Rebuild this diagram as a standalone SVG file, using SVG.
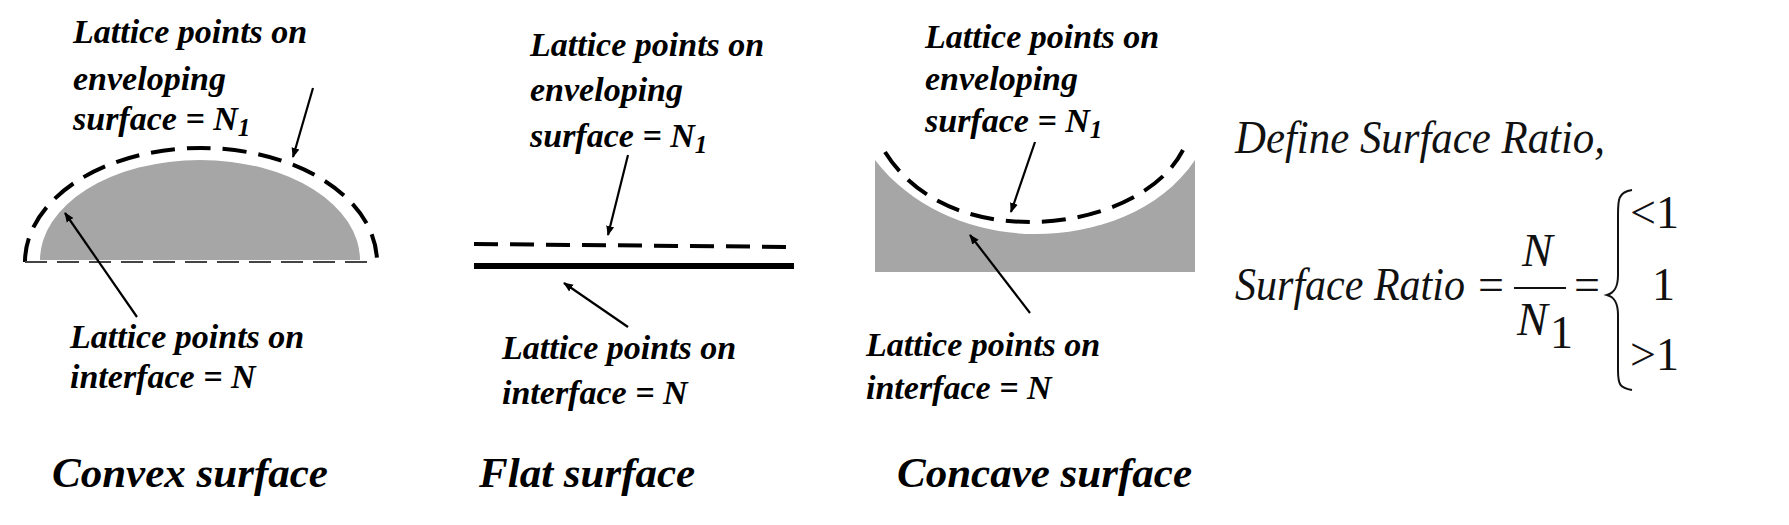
<svg xmlns="http://www.w3.org/2000/svg" width="1789" height="525" viewBox="0 0 1789 525">
<style>
.lb{font-family:"Liberation Serif","Times New Roman","DejaVu Serif",serif;font-weight:bold;font-style:italic;font-size:34px;fill:#000}
.tt{font-family:"Liberation Serif","Times New Roman","DejaVu Serif",serif;font-weight:bold;font-style:italic;font-size:43px;fill:#000}
.eq{font-family:"Liberation Serif","Times New Roman","DejaVu Serif",serif;font-style:italic;font-weight:normal;font-size:46px;fill:#111}
.rm{font-family:"Liberation Serif","Times New Roman","DejaVu Serif",serif;font-style:normal;font-weight:normal;font-size:46px;fill:#111}
.dash{fill:none;stroke:#000;stroke-width:4;stroke-dasharray:24 12}
.arr{stroke:#000;stroke-width:2.2;fill:none;marker-end:url(#ah)}
</style>
<defs><marker id="ah" markerWidth="10" markerHeight="10" refX="9" refY="5" orient="auto" markerUnits="userSpaceOnUse" viewBox="0 0 10 10"><path d="M0,1 L10,5 L0,9 Z" fill="#000"/></marker></defs>
<rect width="1789" height="525" fill="#fff"/>
<g id="convex">
<path d="M40,260 A160,100 0 0 1 360,260 Z" fill="#a6a6a6"/>
<path class="dash" d="M25,262 A176,114 0 0 1 377,262"/>
<line x1="25" y1="262" x2="377" y2="262" stroke="#444" stroke-width="2" stroke-dasharray="22 10"/>
<text class="lb" x="73" y="43">Lattice points on</text>
<text class="lb" x="73" y="90">enveloping</text>
<text class="lb" x="73" y="130">surface = N<tspan font-size="25" dy="6">1</tspan></text>
<text class="lb" x="70" y="348">Lattice points on</text>
<text class="lb" x="70" y="388">interface = N</text>
<text class="tt" x="52" y="487">Convex surface</text>
</g>
<g id="flat">
<line class="dash" x1="474" y1="244" x2="794" y2="247"/>
<line x1="474" y1="266" x2="794" y2="266" stroke="#000" stroke-width="6"/>
<text class="lb" x="530" y="56">Lattice points on</text>
<text class="lb" x="530" y="101">enveloping</text>
<text class="lb" x="530" y="147">surface = N<tspan font-size="25" dy="6">1</tspan></text>
<text class="lb" x="502" y="359">Lattice points on</text>
<text class="lb" x="502" y="404">interface = N</text>
<text class="tt" x="479" y="487">Flat surface</text>
</g>
<g id="concave">
<rect x="875" y="148" width="320" height="124" fill="#a6a6a6"/>
<path d="M875,148 L875,160 C915,212 980,234 1035,234 C1095,234 1160,212 1195,160 L1195,148 Z" fill="#fff"/>
<path class="dash" d="M885,152 C915,200 970,222 1030,222 C1095,222 1160,195 1183,150"/>
<text class="lb" x="925" y="48">Lattice points on</text>
<text class="lb" x="925" y="90">enveloping</text>
<text class="lb" x="925" y="132">surface = N<tspan font-size="25" dy="6">1</tspan></text>
<text class="lb" x="866" y="356">Lattice points on</text>
<text class="lb" x="866" y="399">interface = N</text>
<text class="tt" x="897" y="487">Concave surface</text>
</g>
<g id="connectors">
<line class="arr" x1="313" y1="88" x2="293" y2="157"/>
<line class="arr" x1="137" y1="317" x2="65" y2="213"/>
<line class="arr" x1="628" y1="155" x2="608" y2="235"/>
<line class="arr" x1="628" y1="327" x2="564" y2="283"/>
<line class="arr" x1="1035" y1="142" x2="1011" y2="212"/>
<line class="arr" x1="1030" y1="313" x2="970" y2="235"/>
</g>
<g id="formula">
<text class="eq" x="1235" y="153" textLength="370" lengthAdjust="spacingAndGlyphs">Define Surface Ratio,</text>
<text class="eq" x="1235" y="300" textLength="230" lengthAdjust="spacingAndGlyphs">Surface Ratio</text>
<text class="rm" x="1478" y="300">=</text>
<text class="eq" x="1522" y="266">N</text>
<line x1="1514" y1="288" x2="1566" y2="288" stroke="#111" stroke-width="2"/>
<text class="eq" x="1517" y="335">N</text>
<text class="rm" x="1550" y="348" font-size="28">1</text>
<text class="rm" x="1574" y="300">=</text>
<path d="M1632,190 C1618,192 1618,200 1618,215 L1618,275 C1618,288 1614,293 1607,295 C1614,297 1618,302 1618,315 L1618,370 C1618,385 1620,388 1632,390" fill="none" stroke="#111" stroke-width="2"/>
<text class="rm" x="1630" y="228">&lt;1</text>
<text class="rm" x="1652" y="300">1</text>
<text class="rm" x="1630" y="370">&gt;1</text>
</g>
</svg>
